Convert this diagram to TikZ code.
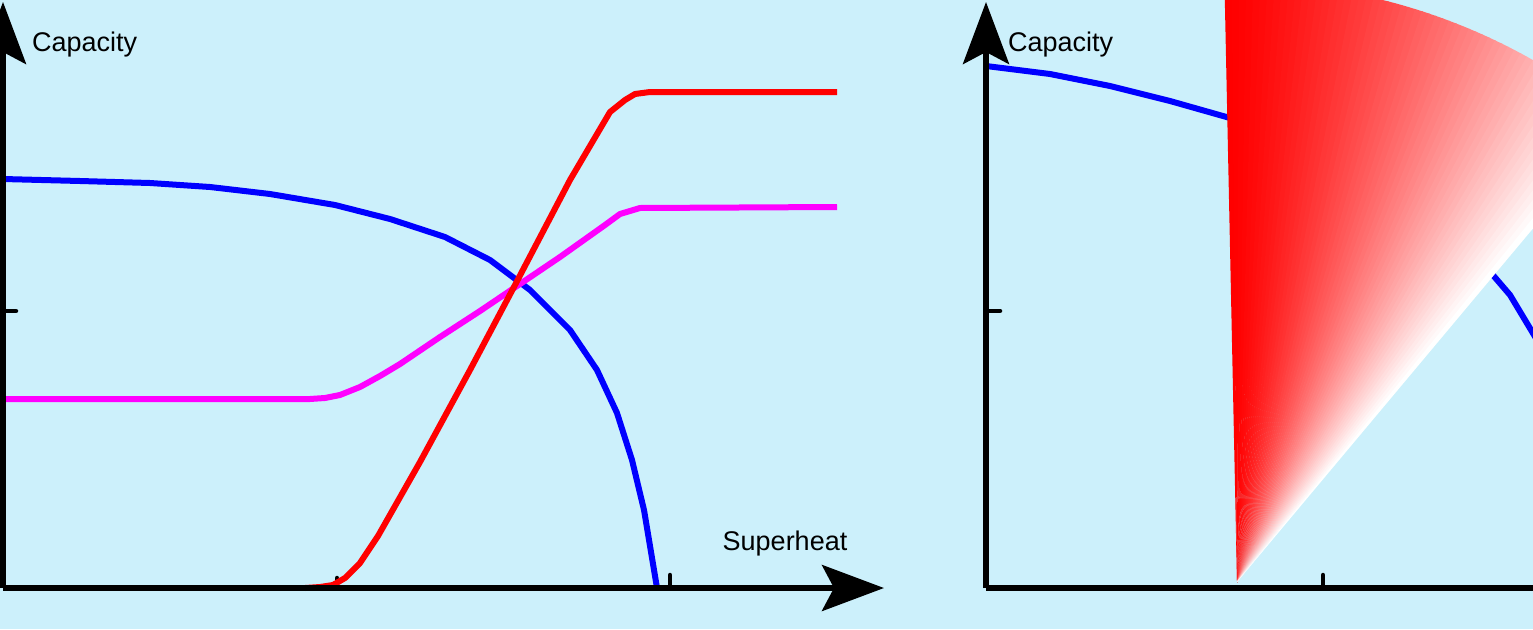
\documentclass[tikz,border=0pt]{standalone}
\usepackage{fontspec}
\setmainfont{Liberation Sans}
\usetikzlibrary{arrows.meta}
\definecolor{bg}{HTML}{CCF0FB}
\definecolor{mag}{HTML}{FF00FF}
\definecolor{rd}{HTML}{FF0000}
\definecolor{bl}{HTML}{0000FF}
\begin{document}
\begin{tikzpicture}[x=1pt,y=-1pt,
  axis/.style={line width=5.5pt,-{Stealth[length=62pt,width=46pt,inset=12pt]}},
  tickmark/.style={line width=4.5pt,line cap=round},
  curve/.style={line width=6pt,line join=round},
  lbl/.style={font=\fontsize{27}{32}\selectfont,inner sep=0pt}]
\useasboundingbox (0,0) rectangle (1533,629);
\fill[bg] (0,0) rectangle (1533,629);
\clip (0,0) rectangle (1533,629);
% left chart
\coordinate (o1) at (3,588);
\coordinate (y1) at (3,2);
\coordinate (x1) at (884,588);
\draw[tickmark] (3,311) -- (16,311);
\draw[tickmark] (670,588) -- (670,575);
\draw[tickmark] (337,588) -- (337,578);
\draw[curve,bl] (3,179) -- (80,181) -- (150,183) -- (210,187) -- (270,194) -- (335,205) -- (390,219) -- (445,237) -- (490,260) -- (530,290) -- (570,330) -- (597,370) -- (617,413) -- (632,460) -- (644,510) -- (657,588);
\draw[curve,mag] (3,399) -- (310,399) -- (325,398) -- (340,395) -- (360,387) -- (380,376) -- (400,364) -- (440,337) -- (480,311) -- (520,284) -- (560,257) -- (605,225) -- (620,214) -- (640,208) -- (837,207);
\draw[curve,rd] (305,588) -- (320,587) -- (333,585) -- (345,578) -- (360,563) -- (378,536) -- (420,462) -- (470,370) -- (515,285) -- (570,180) -- (610,112) -- (625,100) -- (635,94) -- (650,92) -- (837,92);
\draw[axis] (o1) -- (y1);
\draw[axis] (o1) -- (x1);
\node[lbl,anchor=west] (cap1) at (32,45) {Capacity};
\node[lbl] (sh) at (785,544) {Superheat};
% right chart
\coordinate (o2) at (986,588);
\coordinate (y2) at (986,2);
\coordinate (x2) at (1540,588);
\draw[tickmark] (986,311) -- (1000,311);
\draw[tickmark] (1323,588) -- (1323,575);
\draw[curve,bl] (986,66) -- (1050,74) -- (1110,86) -- (1170,101) -- (1230,118) -- (1300,145) -- (1370,180) -- (1430,220) -- (1480,260) -- (1510,295) -- (1540,345);
\foreach \i in {0,...,59}{
  \pgfmathsetmacro{\aa}{91.2-\i*(41/60)}
  \pgfmathsetmacro{\ab}{91.2-(\i+1.2)*(41/60)}
  \pgfmathsetmacro{\p}{100-100*(\i/59)^1.3}
  \fill[rd!\p!white] (1237,582) -- ({1237+600*cos(\aa)},{582-600*sin(\aa)}) arc[start angle=-\aa,end angle=-\ab,radius=600] -- cycle;
}
\draw[axis] (o2) -- (y2);
\draw[line width=5.5pt] (o2) -- (x2);
\node[lbl,anchor=west] (cap2) at (1008,45) {Capacity};
\end{tikzpicture}
\end{document}
